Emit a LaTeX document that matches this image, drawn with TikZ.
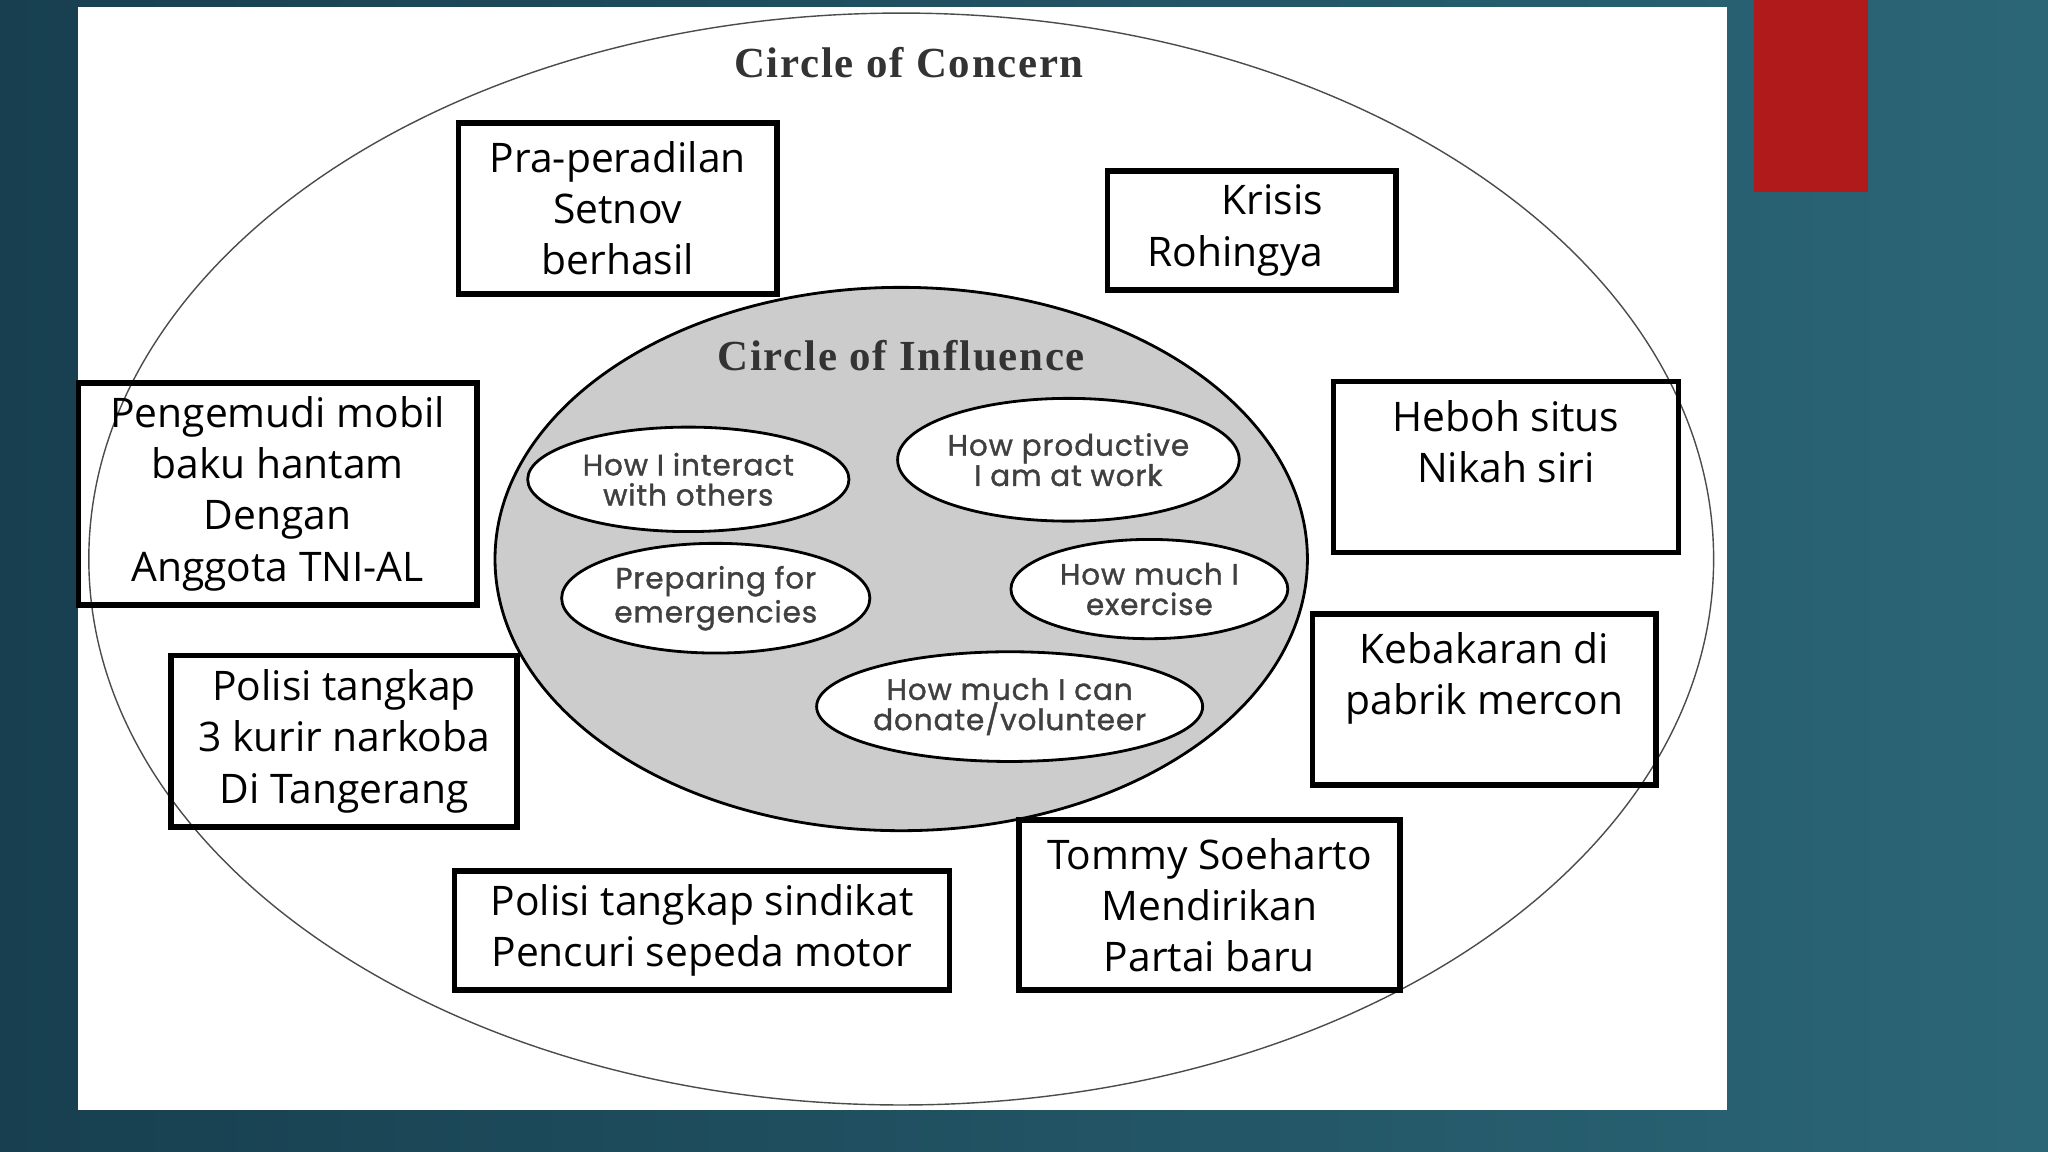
\documentclass[tikz,border=0pt]{standalone}
\usepackage{fontspec}
\setmainfont{Open Sans}
\newfontfamily\geofont{Poppins}[FakeBold=1.2, LetterSpace=3]
\newfontfamily\titlefont{Liberation Serif}[LetterSpace=4]
\usetikzlibrary{positioning,shapes.geometric}
\definecolor{slidedark}{HTML}{173F4F}
\definecolor{slidelight}{HTML}{2B6677}
\definecolor{slidered}{HTML}{B01A1A}
\begin{document}
\begin{tikzpicture}[
x=0.01306cm, y=-0.01306cm,
issue/.style={
	draw,
	line width=1.6pt,
	align=center,
	inner sep=0pt,
	font=\fontsize{11.6}{14.6}\selectfont
},
habit/.style={
	ellipse,
	draw,
	fill=white,
	thick,
	align=center,
	inner sep=0pt,
	font=\geofont\fontsize{8.4}{8.6}\selectfont\color{black!75}
},
heading/.style={
	font=\titlefont\bfseries\fontsize{12.2}{14}\selectfont\color{black!80}
}
]
\shade[left color=slidedark, right color=slidelight] (0,0) rectangle (1568,882);
\fill[white] (60,5) rectangle (1322,850);
\fill[slidered] (1343,0) rectangle (1430,147);

% circles
\draw[thin, black!70] (690,428) ellipse [x radius=622, y radius=418];
\draw[thick, fill=black!20] (690,428) ellipse [x radius=311, y radius=208];
\node[heading] (concern) at (696,48) {Circle of Concern};
\node[heading] (influence) at (690,272) {Circle of Influence};

% habits
\node[habit, minimum width=246*0.01306cm, minimum height=80*0.01306cm] (interact) at (527,367) {How I interact\\with others};
\node[habit, minimum width=256*0.01306cm, minimum height=94*0.01306cm] (work) at (818,352) {How productive\\I am at work};
\node[habit, minimum width=236*0.01306cm, minimum height=84*0.01306cm] (prepare) at (548,458) {Preparing for\\emergencies};
\node[habit, minimum width=212*0.01306cm, minimum height=76*0.01306cm] (exercise) at (880,451) {How much I\\exercise};
\node[habit, minimum width=294*0.01306cm, minimum height=84*0.01306cm] (donate) at (773,541) {How much I can\\donate/volunteer};

% issues
\node[issue, minimum width=244*0.01306cm, minimum height=131*0.01306cm] (praperadilan) at (473,159.5) {Pra-peradilan\\Setnov\\berhasil};
\node[issue, minimum width=221*0.01306cm, minimum height=91*0.01306cm] (rohingya) at (958.5,176.5) {\hspace*{1em}Krisis\\Rohingya\hspace*{0.8em}};
\node[issue, minimum width=305*0.01306cm, minimum height=170*0.01306cm] (pengemudi) at (212.5,378) {Pengemudi mobil\\baku hantam\\Dengan\\Anggota TNI-AL};
\node[issue, minimum width=264*0.01306cm, minimum height=131*0.01306cm] (heboh) at (1153,357.5) {Heboh situs\\Nikah siri\\\mbox{}};
\node[issue, minimum width=265*0.01306cm, minimum height=131*0.01306cm] (kurir) at (263.5,567.5) {Polisi tangkap\\3 kurir narkoba\\Di Tangerang};
\node[issue, minimum width=263*0.01306cm, minimum height=131*0.01306cm] (kebakaran) at (1136.5,535.5) {Kebakaran di\\pabrik mercon\\\mbox{}};
\node[issue, minimum width=379*0.01306cm, minimum height=91*0.01306cm] (sindikat) at (537.5,712.5) {Polisi tangkap sindikat\\Pencuri sepeda motor};
\node[issue, minimum width=292*0.01306cm, minimum height=130*0.01306cm] (tommy) at (926,693) {Tommy Soeharto\\Mendirikan\\Partai baru};

\useasboundingbox (0,0) rectangle (1568,882);
\end{tikzpicture}
\end{document}
